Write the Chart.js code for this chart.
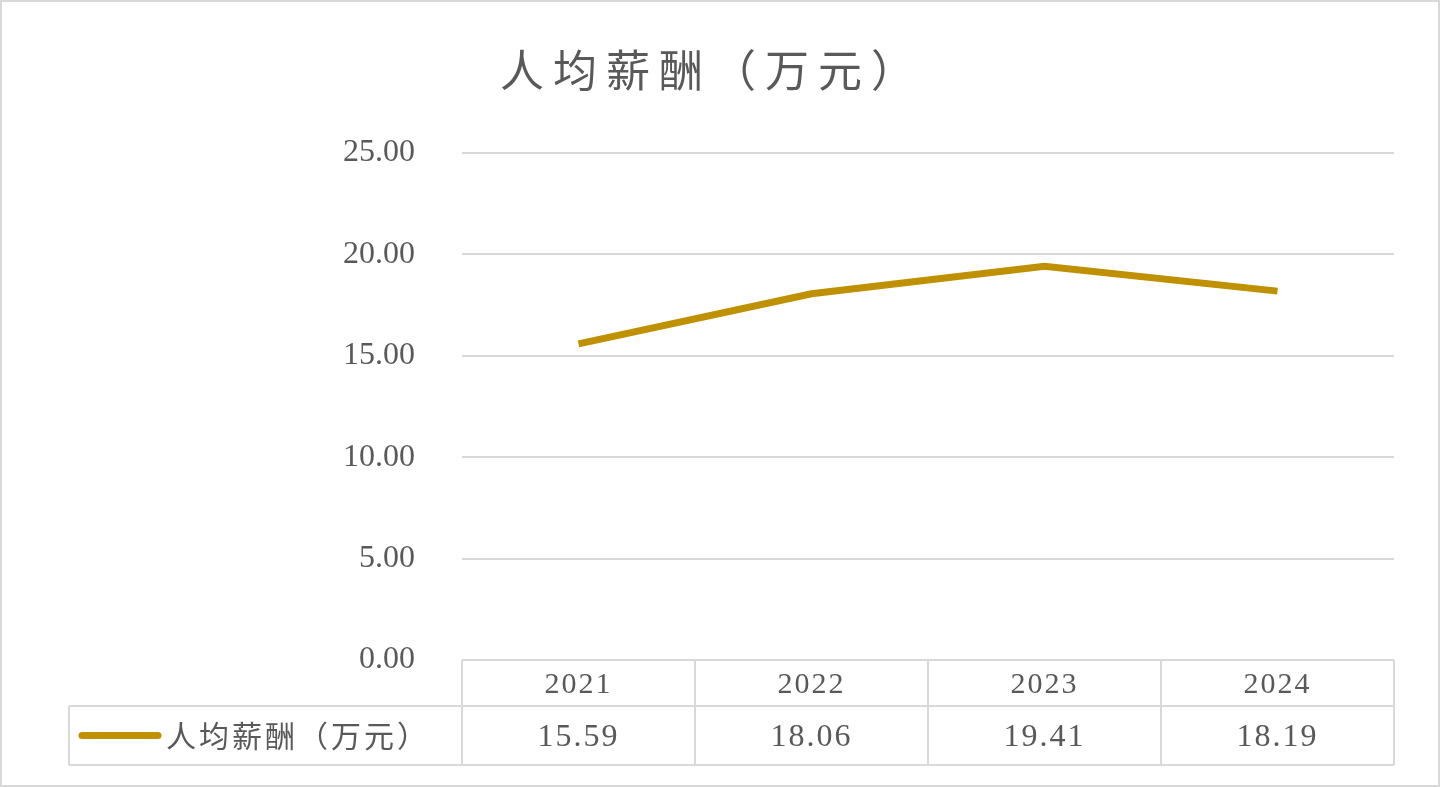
<!DOCTYPE html>
<html>
<head>
<meta charset="utf-8">
<script src="https://cdn.jsdelivr.net/npm/chart.js@4"></script>
<style>
html, body { margin: 0; padding: 0; background: #fff; }
#wrap { width: 1440px; height: 787px; position: relative; }
</style>
</head>
<body>
<div id="wrap"><canvas id="chartCanvas"></canvas></div>
<script>
// 數據
const chartTitle = "人均薪酬（万元）";
const years = ["2021", "2022", "2023", "2024"];
const salary = [15.59, 18.06, 19.41, 18.19];
const seriesName = "人均薪酬（万元）";

const gridColor = "#d9d9d9";
const lineColor = "#bf9000";
const textColor = "#595959";
const numFont = "'Liberation Serif', 'Noto Sans CJK SC', serif";
const cjkFont = "'Noto Sans CJK SC', serif";

// 標題與數據表
const tablePlugin = {
	id: "tablePlugin",
	afterDraw(chart) {
		const c = chart.ctx;
		const x = chart.scales.x;
		const area = chart.chartArea;
		const top = area.bottom;
		const mid = top + 46;
		const bot = top + 105;
		const band = x.getPixelForValue(1) - x.getPixelForValue(0);
		const legLeft = 69;

		c.save();
		// 外框
		c.strokeStyle = gridColor;
		c.lineWidth = 2;
		c.strokeRect(1, 1, 1438, 785);

		// 標題
		c.fillStyle = textColor;
		c.font = "44px " + cjkFont;
		c.letterSpacing = "9px";
		c.textAlign = "center";
		c.textBaseline = "middle";
		c.fillText(chartTitle, 712, 70);
		c.letterSpacing = "2px";

		// 表格線
		c.beginPath();
		c.moveTo(area.left, top); c.lineTo(area.right, top);
		c.moveTo(legLeft, mid); c.lineTo(area.right, mid);
		c.moveTo(legLeft, bot); c.lineTo(area.right, bot);
		c.moveTo(legLeft, mid); c.lineTo(legLeft, bot);
		for (let i = 0; i <= years.length; i++) {
			const px = x.getPixelForValue(0) - band / 2 + i * band;
			c.moveTo(px, top); c.lineTo(px, bot);
		}
		c.stroke();

		// 文字
		c.fillStyle = textColor;
		years.forEach((y, i) => {
			const px = x.getPixelForValue(i);
			c.font = "30px " + numFont;
			c.fillText(y, px, (top + mid) / 2 + 2);
			c.font = "32px " + numFont;
			c.fillText(salary[i].toFixed(2), px, (mid + bot) / 2 + 2);
		});

		// 圖例
		c.strokeStyle = lineColor;
		c.lineWidth = 7;
		c.lineCap = "round";
		c.beginPath();
		c.moveTo(82, (mid + bot) / 2);
		c.lineTo(158, (mid + bot) / 2);
		c.stroke();
		c.fillStyle = textColor;
		c.font = "30px " + cjkFont;
		c.letterSpacing = "3px";
		c.textAlign = "left";
		c.fillText(seriesName, 166, (mid + bot) / 2);
		c.restore();
	},
};

const ctx = document.getElementById("chartCanvas").getContext("2d");
new Chart(ctx, {
	type: "line",
	data: {
		labels: years,
		datasets: [
			{
				label: seriesName,
				data: salary,
				borderColor: lineColor,
				borderWidth: 7,
				pointRadius: 0,
				tension: 0,
			},
		],
	},
	options: {
		responsive: true,
		maintainAspectRatio: false,
		animation: false,
		layout: { padding: { left: 262, right: 46, top: 153, bottom: 127 } },
		scales: {
			x: {
				offset: true,
				display: true,
				ticks: { display: false },
				grid: { display: false },
				border: { display: false },
				afterFit(s) { s.height = 0; },
			},
			y: {
				min: 0,
				max: 25,
				ticks: {
					stepSize: 5,
					padding: 47,
					color: textColor,
					font: { family: numFont, size: 32 },
					callback: (v) => v.toFixed(2),
				},
				grid: { color: gridColor, lineWidth: 2, drawTicks: false },
				border: { display: false },
				afterFit(s) { s.width = 200; },
			},
		},
		plugins: {
			legend: { display: false },
			tooltip: { enabled: false },
		},
	},
	plugins: [tablePlugin],
});
</script>
</body>
</html>
